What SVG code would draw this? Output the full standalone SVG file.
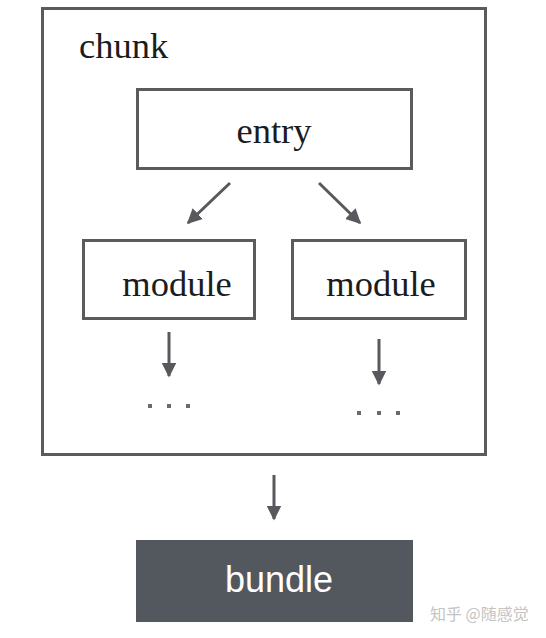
<svg xmlns="http://www.w3.org/2000/svg" width="546" height="638" viewBox="0 0 546 638">
<defs>
<style>
.box{fill:#fff;stroke:#5b5b5b;stroke-width:3}
.serif{font-family:"Liberation Serif","Times New Roman",serif;font-size:36.5px;fill:#1c1c1c}
.conn{stroke:#58595c;stroke-width:3;fill:none}
.dot{fill:#6b6b6b}
</style>
<marker id="ah2" viewBox="0 0 10 10" refX="9" refY="5" markerWidth="15" markerHeight="15" markerUnits="userSpaceOnUse" orient="auto">
<path d="M0,0 L10,5 L0,10 z" fill="#58595c"/>
</marker>
</defs>
<rect width="546" height="638" fill="#fff"/>
<g id="chunk">
<rect class="box" x="42.5" y="8.5" width="443" height="446"/>
<text class="serif" x="79" y="58">chunk</text>
</g>
<g id="entry">
<rect class="box" x="137.5" y="89.5" width="274" height="79"/>
<text class="serif" x="274" y="143" text-anchor="middle">entry</text>
</g>
<g id="module1">
<rect class="box" x="83.5" y="240.5" width="171" height="78"/>
<text class="serif" x="177" y="296" text-anchor="middle">module</text>
</g>
<g id="module2">
<rect class="box" x="292.5" y="240.5" width="173" height="78"/>
<text class="serif" x="381" y="296" text-anchor="middle">module</text>
</g>
<g id="dots1">
<rect class="dot" x="148" y="404" width="4" height="4"/>
<rect class="dot" x="167" y="404" width="4" height="4"/>
<rect class="dot" x="186" y="404" width="4" height="4"/>
</g>
<g id="dots2">
<rect class="dot" x="357" y="411" width="4" height="4"/>
<rect class="dot" x="377" y="411" width="4" height="4"/>
<rect class="dot" x="396" y="411" width="4" height="4"/>
</g>
<g id="bundle">
<rect x="136" y="540" width="277" height="82" fill="#53575e"/>
<text x="279" y="592" text-anchor="middle" font-family="'Liberation Sans',Arial,sans-serif" font-size="36" fill="#fff">bundle</text>
</g>
<g id="connectors">
<line class="conn" x1="230" y1="183" x2="188" y2="223" marker-end="url(#ah2)"/>
<line class="conn" x1="319" y1="183" x2="360" y2="223" marker-end="url(#ah2)"/>
<line class="conn" x1="169" y1="332" x2="169" y2="376" marker-end="url(#ah2)"/>
<line class="conn" x1="379" y1="339" x2="379" y2="384" marker-end="url(#ah2)"/>
<line class="conn" x1="274" y1="475" x2="274" y2="519" marker-end="url(#ah2)"/>
</g>
<text x="430" y="620" font-family="'Noto Sans CJK SC','Liberation Sans',sans-serif" font-size="16" fill="#c4c4c4">知乎 @随感觉</text>
</svg>
